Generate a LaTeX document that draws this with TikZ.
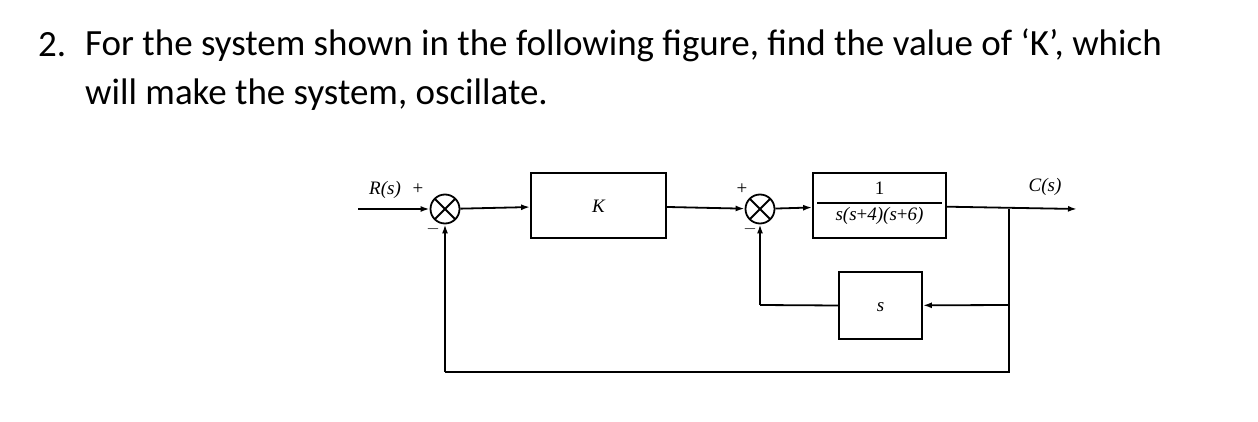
\documentclass[tikz,border=0pt]{standalone}
\usepackage{fontspec}
\setmainfont{Carlito}
\newfontfamily\tms{Liberation Serif}
\usetikzlibrary{arrows.meta}
\begin{document}
\begin{tikzpicture}[x=1pt,y=-1pt,
  blk/.style={draw,line width=1.8pt,inner sep=0pt},
  sumj/.style={draw,circle,line width=1.8pt,minimum size=29pt,inner sep=0pt,path picture={\draw[line width=1.8pt] (path picture bounding box.south west)--(path picture bounding box.north east) (path picture bounding box.north west)--(path picture bounding box.south east);}},
  wire/.style={line width=1.8pt},
  arr/.style={wire,-{Latex[length=9pt,width=6pt]}},
  lbl/.style={font=\tms\itshape\fontsize{19}{19}\selectfont,inner sep=0pt},
  sg/.style={font=\tms\fontsize{19}{19}\selectfont,inner sep=0pt}]
\useasboundingbox (0,0) rectangle (1258,422);
\node[anchor=west,font=\fontsize{37}{37}\selectfont,inner sep=0pt] (t0) at (38,45) {2.};
\node[anchor=west,font=\fontsize{37}{37}\selectfont,inner sep=0pt] (t1) at (85,45) {For the system shown in the following figure, find the value of ‘K’, which};
\node[anchor=west,font=\fontsize{37}{37}\selectfont,inner sep=0pt] (t2) at (85,95) {will make the system, oscillate.};
\node[sumj] (s1) at (445,209) {};
\node[sumj] (s2) at (760,209) {};
\node[blk,minimum width=135pt,minimum height=65pt] (k) at (598.5,205.5) {};
\node[lbl] (kl) at (598.5,206) {K};
\node[blk,minimum width=133pt,minimum height=65pt] (g) at (879.5,205.5) {};
\node[sg] (gn) at (879.5,188) {1};
\node[lbl] (gd) at (879.5,216) {s(s\textup{+}4)(s\textup{+}6)};
\draw[wire] (817,203)--(942,203);
\node[blk,minimum width=83pt,minimum height=67pt] (h) at (880.5,305.5) {};
\node[lbl] (hl) at (880.5,307) {s};
\coordinate (in) at (358,209);
\coordinate (out) at (1077,209);
\coordinate (br) at (1009,209);
\coordinate (br2) at (1009,305);
\coordinate (bl) at (1009,372);
\coordinate (bl2) at (445,372);
\coordinate (c2) at (760,305);
\draw[arr] (in)--(s1);
\draw[arr] (s1)--(k);
\draw[arr] (k)--(s2);
\draw[arr] (s2)--(g);
\draw[arr] (g)--(out);
\draw[wire] (br)--(bl)--(bl2);
\draw[arr] (bl2)--(s1);
\draw[arr] (br2)--(h);
\draw[wire] (h.west)--(c2);
\draw[arr] (c2)--(s2);
\node[lbl] (rs) at (385,190) {R(s)};
\node[sg] (p1) at (418,189) {+};
\node[sg] (m1) at (433,229) {$-$};
\node[sg] (p2) at (742,189) {+};
\node[sg] (m2) at (750,229) {$-$};
\node[lbl] (cs) at (1045,187) {C(s)};
\end{tikzpicture}
\end{document}
